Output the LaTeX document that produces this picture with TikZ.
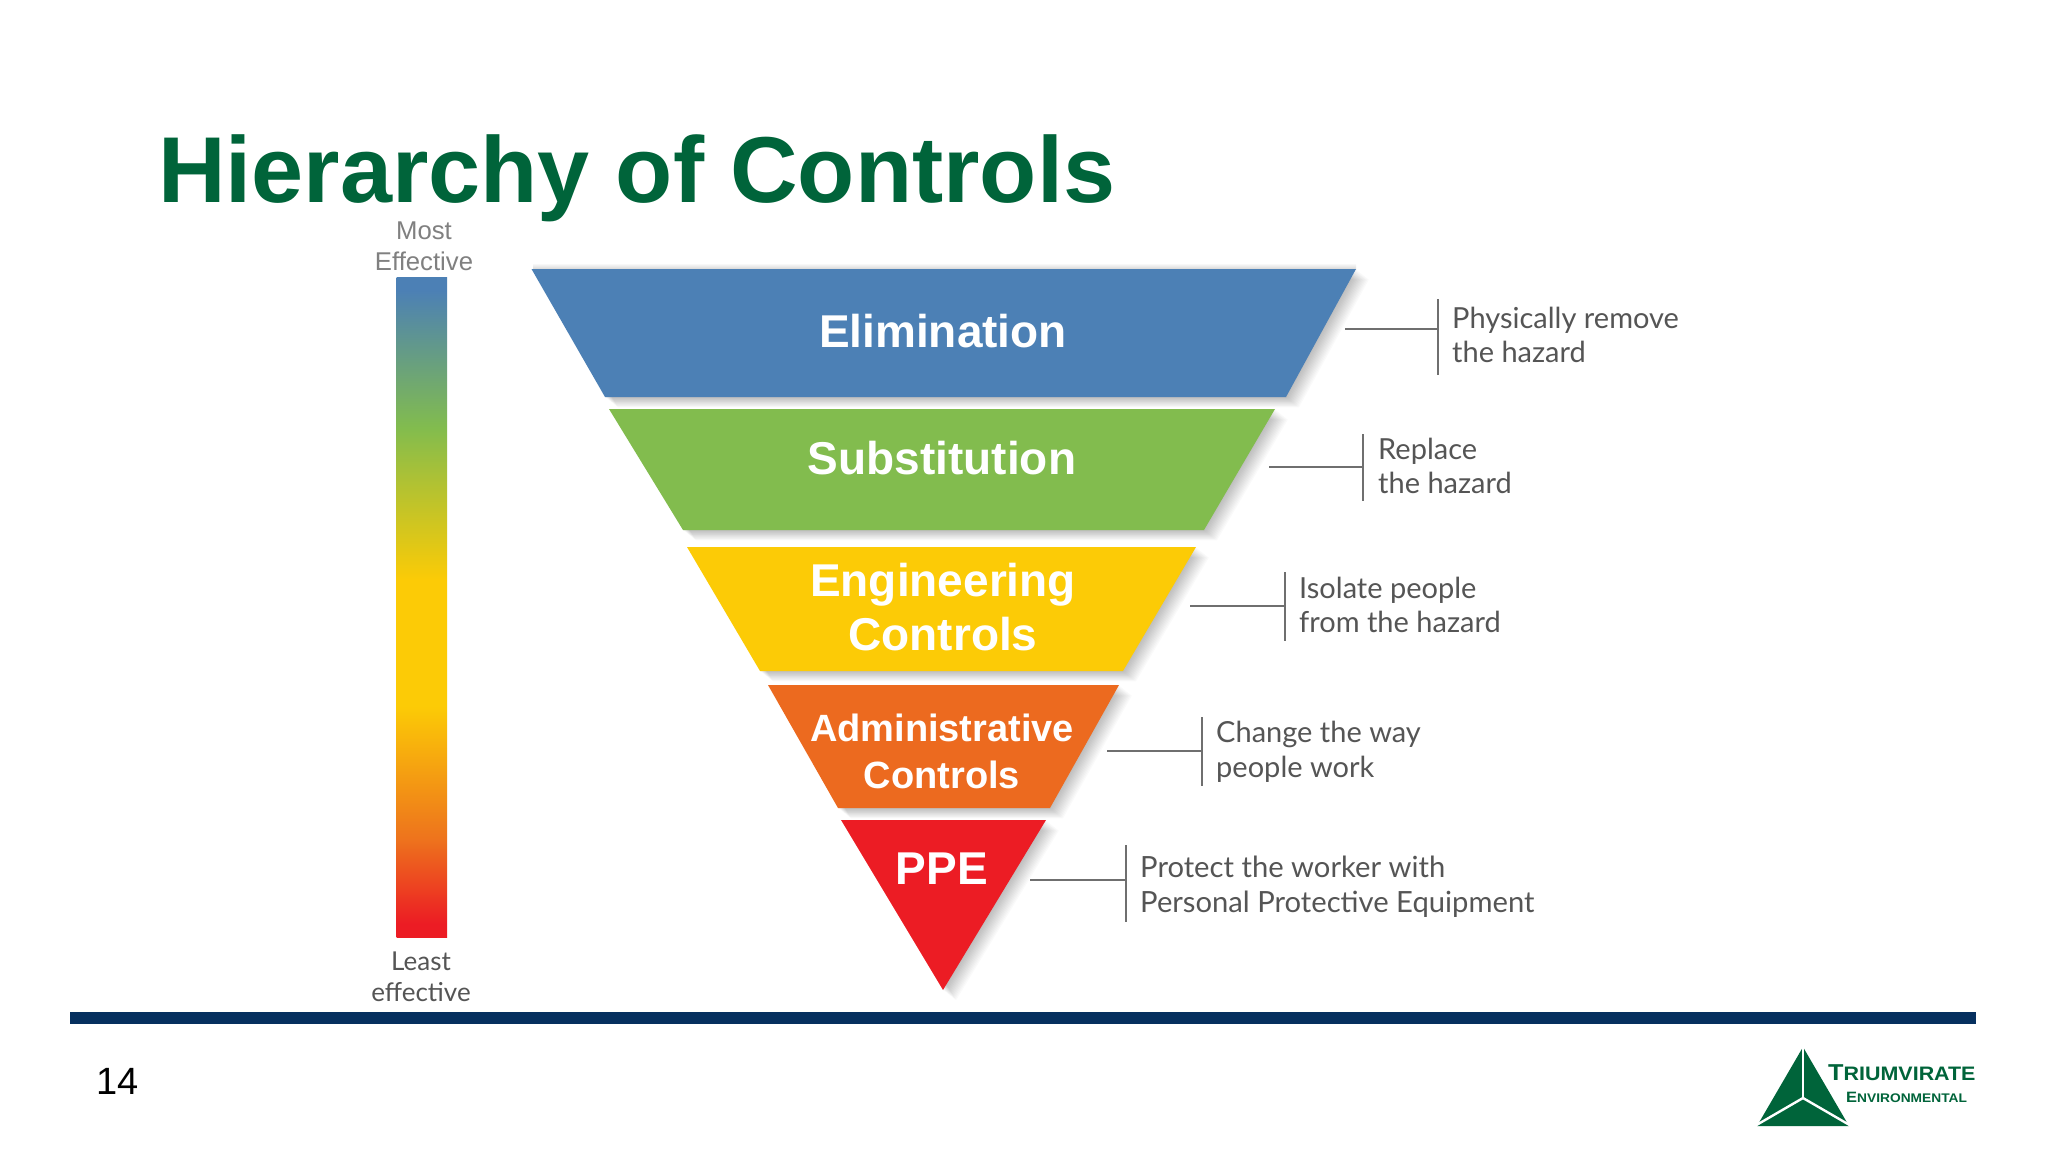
\documentclass[tikz,border=0pt]{standalone}
\usepackage{fontspec}
\setmainfont{Liberation Sans}
\newfontfamily\notefont{Lato}
\definecolor{titlegreen}{HTML}{00643A}
\definecolor{barblue}{HTML}{06305F}
\definecolor{cblue}{HTML}{4C80B5}
\definecolor{cgreen}{HTML}{82BC4E}
\definecolor{cyellow}{HTML}{FCCB06}
\definecolor{corange}{HTML}{EC6A1F}
\definecolor{cred}{HTML}{EC1C24}
\definecolor{inktext}{HTML}{555555}
\definecolor{leadline}{HTML}{6F6F6F}
\pgfdeclareverticalshading{effectbar}{100bp}{
 color(0bp)=(cred);
 color(26bp)=(cred);
 color(32.5bp)=(corange!90!cyellow);
 color(42.5bp)=(cyellow);
 color(52bp)=(cyellow);
 color(59.4bp)=(cgreen!62!cyellow);
 color(63.6bp)=(cgreen);
 color(74bp)=(cblue);
 color(100bp)=(cblue)}
\newcommand{\softlayer}[2]{%
 \foreach \s in {1,...,13}{\fill[black,opacity=.02] [shift={(\s*1.0,\s*0.8)}] #1 -- cycle;}
 \fill[#2] #1 -- cycle;}
\tikzset{
 layerlabel/.style={text=white,font=\bfseries\fontsize{42}{52}\selectfont,align=center,inner sep=0pt},
 notetext/.style={text=inktext,font=\notefont\fontsize{29}{33.5}\selectfont,align=left,anchor=west,inner sep=0pt},
 leader/.style={draw=leadline,line width=1.5pt},
 scaletext/.style={inner sep=0pt,align=center,font=\fontsize{25.7}{31}\selectfont},
}
\begin{document}
\begin{tikzpicture}[x=1pt,y=-1pt]
\useasboundingbox (0,0) rectangle (2048,1152);
\fill[white] (0,0) rectangle (2048,1152);
% title
\node[anchor=base west,inner sep=0pt,text=titlegreen,font=\bfseries\fontsize{93.6}{100}\selectfont] (title) at (158,202) {Hierarchy of Controls};
% effectiveness bar
\node[scaletext,text=gray] (most) at (424,246) {Most\\Effective};
\shade[shading=effectbar] (396.5,277) rectangle (447,937);
\node[scaletext,text=inktext,font=\notefont\fontsize{26}{31}\selectfont] (least) at (421,977) {Least\\effective};
% layers
\fill[top color=white,bottom color=black!16] (533,263) rectangle (1356,269);
\softlayer{(531.5,269) -- (1356,269) -- (1286,397) -- (605,397)}{cblue}
\softlayer{(609,409) -- (1275,409) -- (1204,530) -- (683,530)}{cgreen}
\softlayer{(687,547) -- (1196,547) -- (1123,671) -- (760,671)}{cyellow}
\softlayer{(768,685) -- (1119,685) -- (1050,808) -- (838,808)}{corange}
\softlayer{(841,820) -- (1046,820) -- (943,990)}{cred}
\node[layerlabel,font=\bfseries\fontsize{46}{54}\selectfont] (elim) at (943,331) {Elimination};
\node[layerlabel,font=\bfseries\fontsize{46}{54}\selectfont] (subst) at (942,458) {Substitution};
\node[layerlabel,font=\bfseries\fontsize{46}{54}\selectfont] (engin) at (943,607) {Engineering\\Controls};
\node[layerlabel,font=\bfseries\fontsize{38}{47}\selectfont] (admin) at (942,751) {Administrative\\Controls};
\node[layerlabel,font=\bfseries\fontsize{46}{54}\selectfont] (ppe) at (942,869) {PPE};
% leaders
\coordinate (a0) at (1345,329); \coordinate (a1) at (1438,329); \coordinate (a2) at (1438,299); \coordinate (a3) at (1438,375);
\coordinate (b0) at (1269,467); \coordinate (b1) at (1363,467); \coordinate (b2) at (1363,434); \coordinate (b3) at (1363,501);
\coordinate (c0) at (1190,606); \coordinate (c1) at (1285,606); \coordinate (c2) at (1285,572); \coordinate (c3) at (1285,641);
\coordinate (d0) at (1107,751); \coordinate (d1) at (1202,751); \coordinate (d2) at (1202,717); \coordinate (d3) at (1202,786);
\coordinate (e0) at (1030,880); \coordinate (e1) at (1126,880); \coordinate (e2) at (1126,845); \coordinate (e3) at (1126,922);
\draw[leader] (a0) -- (a1); \draw[leader] (a2) -- (a3);
\draw[leader] (b0) -- (b1); \draw[leader] (b2) -- (b3);
\draw[leader] (c0) -- (c1); \draw[leader] (c2) -- (c3);
\draw[leader] (d0) -- (d1); \draw[leader] (d2) -- (d3);
\draw[leader] (e0) -- (e1); \draw[leader] (e2) -- (e3);
\node[notetext] (na) at (1452,335) {Physically remove\\the hazard};
\node[notetext] (nb) at (1378,466) {Replace\\the hazard};
\node[notetext] (nc) at (1299,605) {Isolate people\\from the hazard};
\node[notetext,font=\notefont\fontsize{29}{34.5}\selectfont] (nd) at (1216,752) {Change the way\\people work};
\node[notetext,font=\notefont\fontsize{29.2}{35}\selectfont] (ne) at (1140,887) {Protect the worker with\\Personal Protective Equipment};
% footer
\fill[barblue] (70,1012) rectangle (1976,1024);
\node[anchor=base west,inner sep=0pt,font=\fontsize{38}{44}\selectfont] (page) at (96,1094) {14};
% logo
\fill[titlegreen] (1803,1047) -- (1849,1126) -- (1757,1126) -- cycle;
\coordinate (lc) at (1803,1098); \coordinate (la) at (1803,1044); \coordinate (ll) at (1753,1127); \coordinate (lr) at (1853,1127);
\draw[white,line width=2.4pt] (lc) -- (la);
\draw[white,line width=2.4pt] (lc) -- (ll);
\draw[white,line width=2.4pt] (lc) -- (lr);
\node[anchor=base west,inner sep=0pt,text=titlegreen,font=\bfseries] (logoa) at (1828,1080) {\scalebox{1.1}[1]{\fontsize{23}{24}\selectfont T\fontsize{19.5}{24}\selectfont RIUMVIRATE}};
\node[anchor=base west,inner sep=0pt,text=titlegreen,font=\bfseries] (logob) at (1846,1102) {\scalebox{1.1}[1]{\fontsize{15}{16}\selectfont E\fontsize{12.5}{16}\selectfont NVIRONMENTAL}};
\end{tikzpicture}
\end{document}
